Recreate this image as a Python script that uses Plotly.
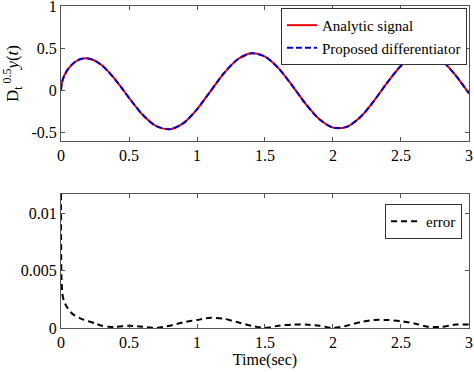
import plotly.graph_objects as go

# ---- data ----
t_signal = [0.0, 0.005, 0.01, 0.02, 0.03, 0.05, 0.1, 0.15, 0.2, 0.25, 0.3, 0.35, 0.4, 0.45,
            0.5, 0.6, 0.7, 0.8, 0.9, 1.0, 1.1, 1.2, 1.3, 1.4, 1.5, 1.6, 1.7, 1.8, 1.9,
            2.0, 2.1, 2.2, 2.3, 2.4, 2.5, 2.6, 2.7, 2.8, 2.9, 3.0]
analytic = [0.0, 0.080, 0.113, 0.159, 0.194, 0.248, 0.333, 0.374, 0.378, 0.351, 0.297, 0.219,
            0.125, 0.021, -0.088, -0.289, -0.424, -0.460, -0.388, -0.224, -0.008, 0.207,
            0.369, 0.439, 0.400, 0.261, 0.057, -0.162, -0.343, -0.441, -0.432, -0.318,
            -0.127, 0.094, 0.292, 0.417, 0.440, 0.354, 0.181, -0.037]
proposed = [0.0, 0.080, 0.113, 0.159, 0.194, 0.248, 0.333, 0.374, 0.378, 0.351, 0.297, 0.219,
            0.125, 0.021, -0.088, -0.289, -0.424, -0.460, -0.388, -0.224, -0.008, 0.207,
            0.369, 0.439, 0.400, 0.261, 0.057, -0.162, -0.343, -0.441, -0.432, -0.318,
            -0.127, 0.094, 0.292, 0.417, 0.440, 0.354, 0.181, -0.037]

t_error = [0.0, 0.003, 0.01, 0.02, 0.04, 0.07, 0.1, 0.15, 0.2, 0.25, 0.3, 0.35, 0.4, 0.5,
           0.6, 0.7, 0.8, 0.9, 1.0, 1.1, 1.2, 1.3, 1.4, 1.5, 1.6, 1.7, 1.8, 1.9, 2.0,
           2.1, 2.2, 2.3, 2.4, 2.5, 2.6, 2.7, 2.8, 2.9, 3.0]
error = [0.0117, 0.0045, 0.0030, 0.0024, 0.0019, 0.0014, 0.0011, 0.0008, 0.0006, 0.0004,
         0.0002, 0.0001, 0.0001, 0.0002, 0.0001, 0.0000, 0.0002, 0.0005, 0.0007, 0.0009,
         0.0008, 0.0005, 0.0002, 0.0000, 0.0002, 0.0003, 0.0003, 0.0002, 0.0000, 0.0002,
         0.0005, 0.0007, 0.0007, 0.0006, 0.0004, 0.0001, 0.0001, 0.0003, 0.0003]

x_ticks = [0, 0.5, 1, 1.5, 2, 2.5, 3]
x_ticklabels = ["0", "0.5", "1", "1.5", "2", "2.5", "3"]
y1_ticks = [-0.5, 0, 0.5, 1]
y1_ticklabels = ["-0.5", "0", "0.5", "1"]
y2_ticks = [0, 0.005, 0.01]
y2_ticklabels = ["0", "0.005", "0.01"]

FONT = "Liberation Serif"
AX = "#555555"

fig = go.Figure()
fig.add_trace(go.Scatter(x=t_signal, y=analytic, mode="lines", name="Analytic signal",
                         line=dict(color="#e8000b", width=2, shape="spline", smoothing=0.8),
                         xaxis="x", yaxis="y", legend="legend"))
fig.add_trace(go.Scatter(x=t_signal, y=proposed, mode="lines", name="Proposed differentiator",
                         line=dict(color="#0000d0", width=2, dash="6px,3px", shape="spline",
                                   smoothing=0.8),
                         xaxis="x", yaxis="y", legend="legend"))
fig.add_trace(go.Scatter(x=t_error, y=error, mode="lines", name="error",
                         line=dict(color="black", width=2, dash="6px,4px", shape="spline",
                                   smoothing=0.6),
                         xaxis="x2", yaxis="y2", legend="legend2"))


def axis_common():
    return dict(showline=True, linecolor=AX, linewidth=1, mirror="ticks",
                ticks="inside", ticklen=4, tickcolor=AX, showgrid=False, zeroline=False,
                automargin=False, ticklabeloverflow="allow",
                tickfont=dict(family=FONT, size=16, color="black"))


fig.update_layout(
    width=474, height=372,
    margin=dict(l=61, r=5, t=6, b=44, autoexpand=False),
    paper_bgcolor="white", plot_bgcolor="white",
    font=dict(family=FONT, size=16, color="black"),
    xaxis=dict(domain=[0, 1], anchor="y", range=[0, 3.0001], tickvals=x_ticks,
               ticktext=x_ticklabels, **axis_common()),
    yaxis=dict(domain=[0.5807, 1.0], anchor="x", range=[-0.6, 1.0001], tickvals=y1_ticks,
               ticktext=y1_ticklabels,
               title=dict(text="D<sub>t</sub><sup> 0.5</sup><i>y</i>(<i>t</i>)",
                          font=dict(family=FONT, size=17), standoff=8),
               **axis_common()),
    xaxis2=dict(domain=[0, 1], anchor="y2", range=[0, 3.0001], tickvals=x_ticks,
                ticktext=x_ticklabels,
                title=dict(text="Time(sec)", font=dict(family=FONT, size=16), standoff=0),
                **axis_common()),
    yaxis2=dict(domain=[0, 0.4161], anchor="x2", range=[0, 0.0117], tickvals=y2_ticks,
                ticktext=y2_ticklabels, **axis_common()),
    legend=dict(x=0.995, y=0.994, xanchor="right", yanchor="top", bgcolor="white",
                bordercolor="#333333", borderwidth=1, font=dict(family=FONT, size=15),
                tracegroupgap=0, itemwidth=30),
    legend2=dict(x=0.983, y=0.385, xanchor="right", yanchor="top", bgcolor="white",
                 bordercolor="#333333", borderwidth=1, font=dict(family=FONT, size=15),
                 itemwidth=30),
    showlegend=True,
)

fig.write_html("out.html", config={"displayModeBar": False},
               post_script="document.body.style.margin='0';document.body.style.overflow='hidden';")
